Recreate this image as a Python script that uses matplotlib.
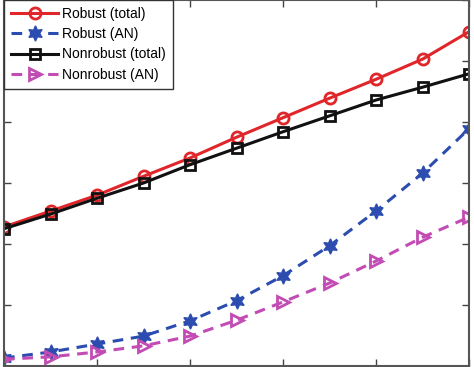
import matplotlib
matplotlib.use("Agg")
import matplotlib.pyplot as plt
import numpy as np

x = list(range(11))
robust_total = [2.28, 2.54, 2.80, 3.11, 3.41, 3.75, 4.07, 4.39, 4.70, 5.03, 5.48]
robust_an = [0.13, 0.23, 0.36, 0.49, 0.74, 1.07, 1.48, 1.97, 2.54, 3.16, 3.89]
nonrobust_total = [2.25, 2.49, 2.75, 3.00, 3.30, 3.57, 3.84, 4.10, 4.36, 4.57, 4.79]
nonrobust_an = [0.11, 0.15, 0.23, 0.33, 0.49, 0.75, 1.05, 1.36, 1.72, 2.11, 2.44]
labels = ["Robust (total)", "Robust (AN)", "Nonrobust (total)", "Nonrobust (AN)"]

plt.rcParams['font.family'] = ['Liberation Sans', 'DejaVu Sans']

fig = plt.figure(figsize=(4.74, 3.67), dpi=100)
ax = fig.add_axes([4/474, 1/367, 465/474, 366/367])

red = '#E0262A'
blue = '#2C4DAF'
mag = '#C24BB4'

ax.plot(x, robust_total, '-', color=red, lw=2.2, marker='o', ms=8, mfc='none', mec=red, mew=2.0, label=labels[0])
ax.plot(x, robust_an, '--', color=blue, lw=2.2, dashes=(3.5, 2.5), marker=(6, 1, 0), ms=11, mfc=blue, mec=blue, label=labels[1])
ax.plot(x, nonrobust_total, '-', color='#111111', lw=2.2, marker='s', ms=7, mfc='none', mec='#111111', mew=2.0, label=labels[2])
ax.plot(x, nonrobust_an, '--', color=mag, lw=2.2, dashes=(3.5, 2.5), marker='>', ms=9, mfc='none', mec=mag, mew=2.0, label=labels[3])

ax.set_xlim(0, 10)
ax.set_ylim(0, 6)
ax.set_xticks([0, 2, 4, 6, 8, 10])
ax.set_yticks([0, 1, 2, 3, 4, 5, 6])
ax.tick_params(direction='in', length=5, width=1, top=True, right=True, labelbottom=False, labelleft=False, colors='#444444')
for s in ax.spines.values():
    s.set_color('#555555')
    s.set_linewidth(1.5)

leg = ax.legend(loc='upper left', bbox_to_anchor=(0, 1), borderaxespad=0, fontsize=10,
                handlelength=3.4, handletextpad=0.3, labelspacing=0.45, fancybox=False,
                framealpha=1, edgecolor='#333333', borderpad=0.5)
leg.get_frame().set_linewidth(1.0)

fig.savefig('out.png', dpi=100)
